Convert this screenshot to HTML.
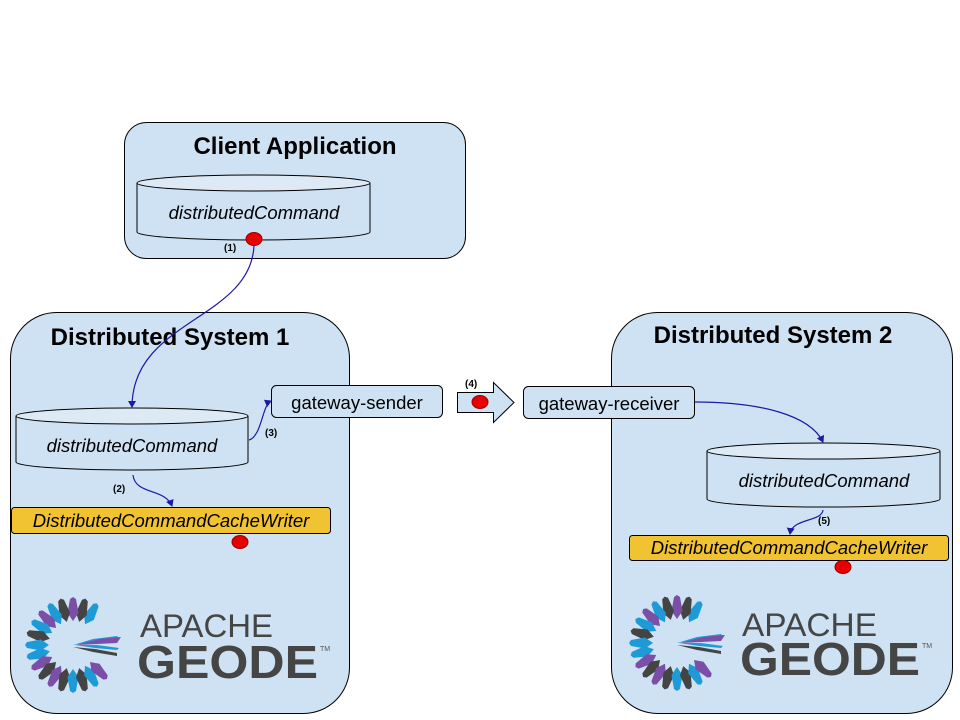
<!DOCTYPE html>
<html><head><meta charset="utf-8"><style>
html,body{margin:0;padding:0;background:#fff}
svg{display:block}
text{font-family:"Liberation Sans",Arial,sans-serif}
</style></head><body>
<svg width="960" height="720" viewBox="0 0 960 720" xmlns="http://www.w3.org/2000/svg">
<defs>
<marker id="ah" markerWidth="8" markerHeight="8" refX="6" refY="4" orient="auto" markerUnits="userSpaceOnUse">
<path d="M0,0 L7,4 L0,8 Z" fill="#1a1aa6"/></marker>
<polygon id="sp" points="24,0 32,-5.5 46,-3 48,0 46,3 32,5.5"/>
<g id="logo">
<g transform="rotate(-60)"><use href="#sp" fill="#1e9bd7"/></g>
<g transform="rotate(-75)"><use href="#sp" fill="#444"/></g>
<g transform="rotate(-90)"><use href="#sp" fill="#7b4fa8"/></g>
<g transform="rotate(-105)"><use href="#sp" fill="#444"/></g>
<g transform="rotate(-120)"><use href="#sp" fill="#1e9bd7"/></g>
<g transform="rotate(-135)"><use href="#sp" fill="#7b4fa8"/></g>
<g transform="rotate(-150)"><use href="#sp" fill="#1e9bd7"/></g>
<g transform="rotate(-165)"><use href="#sp" fill="#444"/></g>
<g transform="rotate(180)"><use href="#sp" fill="#1e9bd7"/></g>
<g transform="rotate(165)"><use href="#sp" fill="#1e9bd7"/></g>
<g transform="rotate(150)"><use href="#sp" fill="#7b4fa8"/></g>
<g transform="rotate(135)"><use href="#sp" fill="#444"/></g>
<g transform="rotate(120)"><use href="#sp" fill="#7b4fa8"/></g>
<g transform="rotate(105)"><use href="#sp" fill="#444"/></g>
<g transform="rotate(90)"><use href="#sp" fill="#1e9bd7"/></g>
<g transform="rotate(75)"><use href="#sp" fill="#444"/></g>
<g transform="rotate(60)"><use href="#sp" fill="#1e9bd7"/></g>
<g transform="rotate(45)"><use href="#sp" fill="#7b4fa8"/></g>
<polygon points="0,0 20,-6 44,-9 46,-7 22,-2" fill="#1e9bd7"/>
<polygon points="4,-2 26,-8 48,-10 44,-4 24,-3" fill="#7b4fa8" transform="translate(0,2)"/>
<polygon points="0,2 22,4 44,8 44,11 20,7" fill="#444"/>
<polygon points="2,0 24,0 46,3 44,5 22,3" fill="#1e9bd7"/>
</g>
</defs>

<!-- Client Application -->
<rect x="124.5" y="122.5" width="341" height="136" rx="22" fill="#cfe2f3" stroke="#000" stroke-width="1"/>
<text x="295" y="154" font-size="24" font-weight="bold" text-anchor="middle">Client Application</text>
<path d="M137,183 L137,232 A116.5,8 0 0 0 370,232 L370,183" fill="#cfe2f3" stroke="#000"/>
<ellipse cx="253.5" cy="183" rx="116.5" ry="8" fill="#ddeaf6" stroke="#000"/>
<text x="254" y="219" font-size="18.5" font-style="italic" text-anchor="middle">distributedCommand</text>

<!-- DS1 -->
<rect x="10.5" y="312.5" width="339" height="401" rx="46" fill="#cfe2f3" stroke="#000"/>
<text x="170" y="345" font-size="24" font-weight="bold" text-anchor="middle">Distributed System 1</text>
<path d="M16,416 L16,462 A116,8 0 0 0 248,462 L248,416" fill="#cfe2f3" stroke="#000"/>
<ellipse cx="132" cy="416" rx="116" ry="8" fill="#ddeaf6" stroke="#000"/>
<text x="132" y="452" font-size="18.5" font-style="italic" text-anchor="middle">distributedCommand</text>
<rect x="271.5" y="385.5" width="171" height="32" rx="5" fill="#cfe2f3" stroke="#000"/>
<text x="357" y="409" font-size="18.5" text-anchor="middle">gateway-sender</text>
<rect x="11.5" y="507.5" width="319" height="26" rx="3" fill="#f1c232" stroke="#000"/>
<text x="171" y="527" font-size="18.5" font-style="italic" text-anchor="middle">DistributedCommandCacheWriter</text>
<ellipse cx="240" cy="542" rx="8" ry="6.5" fill="#e60000" stroke="#900"/>
<use href="#logo" transform="translate(73,645)"/>
<text x="140" y="637" font-size="32" fill="#454545" textLength="133" lengthAdjust="spacingAndGlyphs">APACHE</text>
<text x="137" y="678" font-size="46" font-weight="bold" fill="#454545" textLength="181" lengthAdjust="spacingAndGlyphs">GEODE</text>
<text x="320" y="651" font-size="7" fill="#555">TM</text>

<!-- DS2 -->
<rect x="611.5" y="312.5" width="341" height="401" rx="46" fill="#cfe2f3" stroke="#000"/>
<text x="773" y="343" font-size="24" font-weight="bold" text-anchor="middle">Distributed System 2</text>
<path d="M707,451 L707,499 A116.5,8 0 0 0 940,499 L940,451" fill="#cfe2f3" stroke="#000"/>
<ellipse cx="823.5" cy="451" rx="116.5" ry="8" fill="#ddeaf6" stroke="#000"/>
<text x="824" y="487" font-size="18.5" font-style="italic" text-anchor="middle">distributedCommand</text>
<rect x="523.5" y="386.5" width="171" height="32" rx="5" fill="#cfe2f3" stroke="#000"/>
<text x="609" y="410" font-size="18.5" text-anchor="middle">gateway-receiver</text>
<rect x="629.5" y="535.5" width="319" height="25" rx="3" fill="#f1c232" stroke="#000"/>
<text x="789" y="554" font-size="18.5" font-style="italic" text-anchor="middle">DistributedCommandCacheWriter</text>
<ellipse cx="843" cy="567" rx="8" ry="6.5" fill="#e60000" stroke="#900"/>
<use href="#logo" transform="translate(677,643)"/>
<text x="742" y="636" font-size="32" fill="#454545" textLength="135" lengthAdjust="spacingAndGlyphs">APACHE</text>
<text x="740" y="675" font-size="46" font-weight="bold" fill="#454545" textLength="180" lengthAdjust="spacingAndGlyphs">GEODE</text>
<text x="922" y="648" font-size="7" fill="#555">TM</text>

<!-- Arrow (4) -->
<path d="M457.5,392.5 L493.5,392.5 L493.5,382.5 L514,402.5 L493.5,422.5 L493.5,412.5 L457.5,412.5 Z" fill="#cfe2f3" stroke="#000"/>
<ellipse cx="480" cy="402" rx="8" ry="6.5" fill="#e60000" stroke="#900"/>
<text x="465" y="387" font-size="10" font-weight="bold">(4)</text>

<!-- connectors -->
<path d="M254,246 C250,320 132,320 132,407" fill="none" stroke="#1a1aa6" stroke-width="1.2" marker-end="url(#ah)"/>
<path d="M249,440 C262,436 262,405 271,401" fill="none" stroke="#1a1aa6" stroke-width="1.2" marker-end="url(#ah)"/>
<path d="M133,475 C135,495 165,488 172,506" fill="none" stroke="#1a1aa6" stroke-width="1.2" marker-end="url(#ah)"/>
<path d="M695,402 C760,402 810,415 823,442" fill="none" stroke="#1a1aa6" stroke-width="1.2" marker-end="url(#ah)"/>
<path d="M823,510 C822,522 792,518 790,534" fill="none" stroke="#1a1aa6" stroke-width="1.2" marker-end="url(#ah)"/>

<ellipse cx="254" cy="239" rx="8" ry="6.5" fill="#e60000" stroke="#900"/>
<text x="224" y="251" font-size="10" font-weight="bold">(1)</text>
<text x="113" y="492" font-size="10" font-weight="bold">(2)</text>
<text x="265" y="436" font-size="10" font-weight="bold">(3)</text>
<text x="818" y="524" font-size="10" font-weight="bold">(5)</text>
</svg>
</body></html>
